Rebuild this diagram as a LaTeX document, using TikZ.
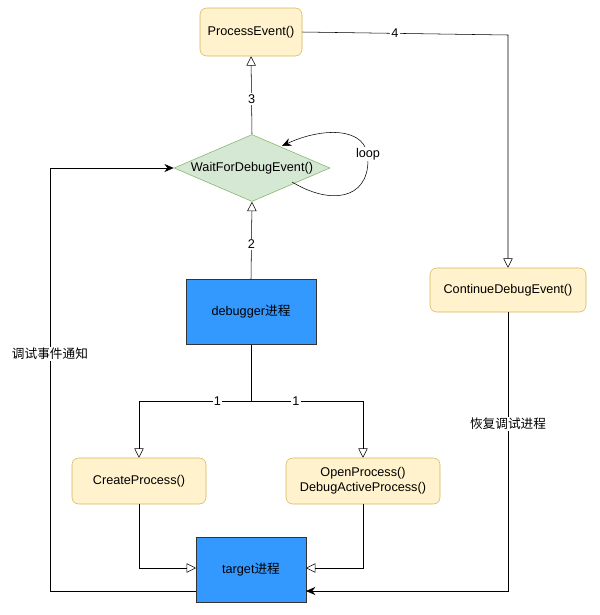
\documentclass[tikz,border=0pt]{standalone}
\usepackage{fontspec}
\setmainfont{Liberation Sans}
\newfontfamily\cjk{Noto Sans CJK SC}
\usetikzlibrary{shapes.geometric,arrows.meta}
\definecolor{yfill}{HTML}{FFF2CC}
\definecolor{ystroke}{HTML}{D6B656}
\definecolor{gfill}{HTML}{D5E8D4}
\definecolor{gstroke}{HTML}{82B366}
\definecolor{bfill}{HTML}{3399FF}
\begin{document}
\begin{tikzpicture}[x=0.75pt,y=-0.75pt,font=\fontsize{9.5}{11}\selectfont,
  yel/.style={draw=ystroke,fill=yfill,rounded corners=5pt,align=center,inner sep=0pt},
  blu/.style={draw=black!80,fill=bfill,align=center,inner sep=0pt},
  open/.style={-{Triangle[open,length=7pt,width=7pt]}},
  solid/.style={-{Stealth[length=7pt,width=6pt]}},
  lab/.style={fill=white,inner sep=1pt}]
\useasboundingbox (0,0) rectangle (600,615);
\node[yel,minimum width=102*0.75pt,minimum height=48*0.75pt] (pe) at (251,32) {ProcessEvent()};
\node[diamond,draw=gstroke,fill=gfill,minimum width=156*0.75pt,minimum height=67*0.75pt,inner sep=0pt,aspect=2.3] (w) at (252,168) {WaitForDebugEvent()};
\node[blu,minimum width=130*0.75pt,minimum height=65*0.75pt] (dbg) at (251,312) {debugger{\cjk 进程}};
\node[yel,minimum width=156*0.75pt,minimum height=44*0.75pt] (cde) at (508,290) {ContinueDebugEvent()};
\node[yel,minimum width=134*0.75pt,minimum height=46*0.75pt] (cp) at (139,481) {CreateProcess()};
\node[yel,minimum width=154*0.75pt,minimum height=46*0.75pt] (op) at (363,481) {OpenProcess()\\DebugActiveProcess()};
\node[blu,minimum width=110*0.75pt,minimum height=65*0.75pt] (t) at (251,570) {target{\cjk 进程}};
\coordinate (j) at (251,401);
\draw[open] (w.north) -- node[lab,pos=0.45]{3} (pe.south);
\draw[open] (dbg.north) -- node[lab,pos=0.45]{2} (w.south);
\draw (dbg.south) -- (j);
\draw[open] (j) -- node[lab,pos=0.3]{1} (139,401) -- (cp.north);
\draw[open] (j) -- node[lab,pos=0.4]{1} (363,401) -- (op.north);
\draw[open] (pe.east) -- node[lab,pos=0.45]{4} (508,35) -- (cde.north);
\draw[solid] (cde.south) -- node[lab,pos=0.4,font=\cjk\fontsize{9.5}{11}\selectfont]{恢复调试进程} (508,591) -- (306,591);
\draw[open] (cp.south) -- (139,568) -- (196,568);
\draw[open] (op.south) -- (363,568) -- (306,568);
\draw[solid] (196,591) -- (50,591) -- node[lab,pos=0.56,font=\cjk\fontsize{9.5}{11}\selectfont]{调试事件通知} (50,168) -- (w.west);
\draw[solid] (292,182) .. controls (330,205) and (368,200) .. (368,160) .. controls (368,125) and (320,128) .. (282,146);
\node[lab] (lp) at (368,154) {loop};
\end{tikzpicture}
\end{document}
